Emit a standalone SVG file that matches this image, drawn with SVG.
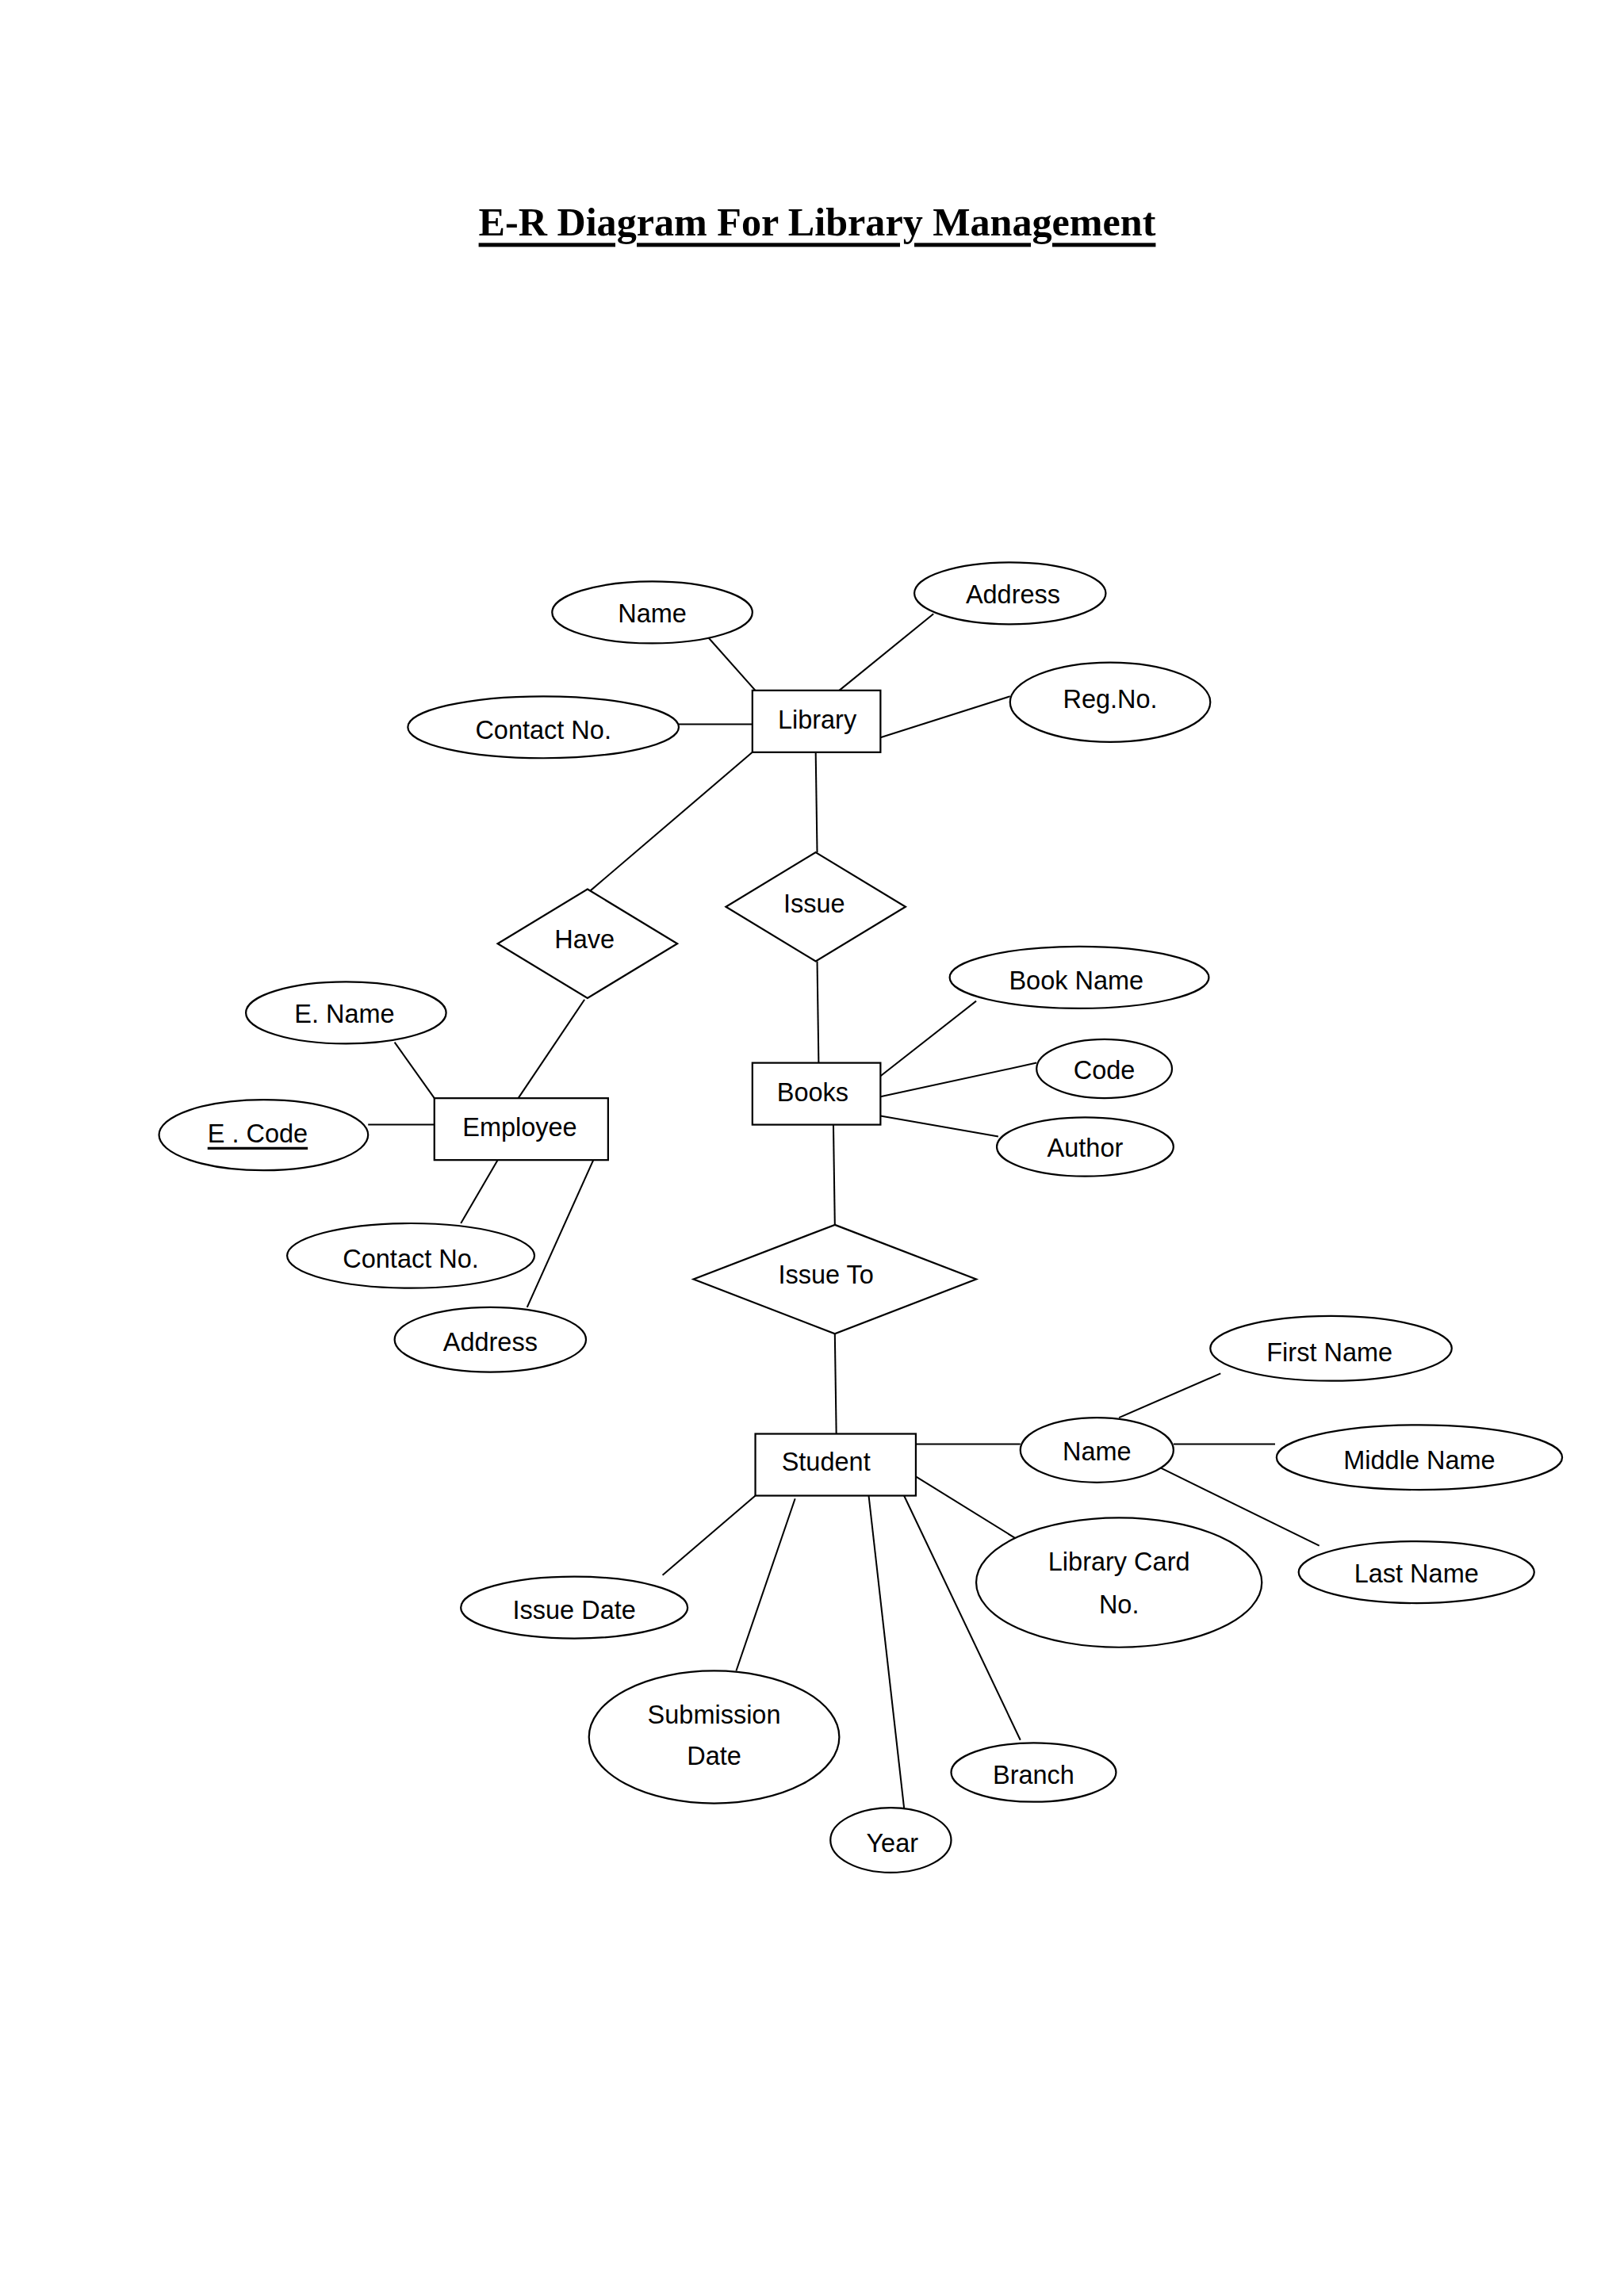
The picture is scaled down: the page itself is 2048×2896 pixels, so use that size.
<svg xmlns="http://www.w3.org/2000/svg" width="2048" height="2896" viewBox="0 0 2048 2896">
<style>
.s{fill:#fff;stroke:#000;stroke-width:1.2}
.l{stroke:#000;stroke-width:1.1;fill:none}
text{font-family:"Liberation Sans","Noto Sans",sans-serif;font-size:17.5px;text-anchor:middle;dominant-baseline:central;fill:#000}
</style>
<rect width="2048" height="2896" fill="#fff"/>
<g transform="scale(1.8568)">
<text x="555" y="151" style="font-family:'Liberation Serif',serif;font-weight:bold;font-size:27px;text-decoration:underline">E-R Diagram  For Library  Management</text>
<g id="connectors">
<line class="l" x1="481" y1="433" x2="513" y2="469"/>
<line class="l" x1="634" y1="417" x2="570" y2="469"/>
<line class="l" x1="686" y1="473" x2="598" y2="501"/>
<line class="l" x1="461" y1="492" x2="511" y2="492"/>
<line class="l" x1="511" y1="511" x2="401" y2="605"/>
<line class="l" x1="554" y1="511" x2="555" y2="579"/>
<line class="l" x1="555" y1="653" x2="556" y2="722"/>
<line class="l" x1="663" y1="680" x2="598" y2="731"/>
<line class="l" x1="704" y1="722" x2="598" y2="745"/>
<line class="l" x1="678" y1="772" x2="598" y2="758"/>
<line class="l" x1="397" y1="679" x2="352" y2="746"/>
<line class="l" x1="268" y1="708" x2="295" y2="746"/>
<line class="l" x1="250" y1="764" x2="295" y2="764"/>
<line class="l" x1="338" y1="788" x2="313" y2="831"/>
<line class="l" x1="403" y1="788" x2="358" y2="888"/>
<line class="l" x1="566" y1="764" x2="567" y2="832"/>
<line class="l" x1="567" y1="906" x2="568" y2="974"/>
<line class="l" x1="622" y1="981" x2="693" y2="981"/>
<line class="l" x1="760" y1="963" x2="829" y2="933"/>
<line class="l" x1="797" y1="981" x2="866" y2="981"/>
<line class="l" x1="786" y1="996" x2="896" y2="1050"/>
<line class="l" x1="622" y1="1003" x2="693" y2="1047"/>
<line class="l" x1="513" y1="1016" x2="450" y2="1070"/>
<line class="l" x1="540" y1="1018" x2="500" y2="1135"/>
<line class="l" x1="590" y1="1016" x2="614" y2="1228"/>
<line class="l" x1="614" y1="1016" x2="693" y2="1182"/>
</g>
<g id="library"><rect class="s" x="511" y="469" width="87" height="42"/><text x="555" y="489">Library</text></g>
<g id="lib-name"><ellipse class="s" cx="443" cy="416" rx="68" ry="21"/><text x="443" y="417">Name</text></g>
<g id="lib-address"><ellipse class="s" cx="686" cy="403" rx="65" ry="21"/><text x="688" y="404">Address</text></g>
<g id="lib-reg"><ellipse class="s" cx="754" cy="477" rx="68" ry="27"/><text x="754" y="475">Reg.No.</text></g>
<g id="lib-contact"><ellipse class="s" cx="369" cy="494" rx="92" ry="21"/><text x="369" y="496">Contact No.</text></g>
<g id="have"><polygon class="s" points="399,604 460,641 399,678 338,641"/><text x="397" y="638">Have</text></g>
<g id="issue"><polygon class="s" points="554,579 615,616 554,653 493,616"/><text x="553" y="614">Issue</text></g>
<g id="books"><rect class="s" x="511" y="722" width="87" height="42"/><text x="552" y="742">Books</text></g>
<g id="book-name"><ellipse class="s" cx="733" cy="664" rx="88" ry="21"/><text x="731" y="666">Book Name</text></g>
<g id="code"><ellipse class="s" cx="750" cy="726" rx="46" ry="20"/><text x="750" y="727">Code</text></g>
<g id="author"><ellipse class="s" cx="737" cy="779" rx="60" ry="20"/><text x="737" y="780">Author</text></g>
<g id="employee"><rect class="s" x="295" y="746" width="118" height="42"/><text x="353" y="766">Employee</text></g>
<g id="e-name"><ellipse class="s" cx="235" cy="688" rx="68" ry="21"/><text x="234" y="689">E. Name</text></g>
<g id="e-code"><ellipse class="s" cx="179" cy="771" rx="71" ry="24"/><text x="175" y="770" style="text-decoration:underline">E . Code</text></g>
<g id="e-contact"><ellipse class="s" cx="279" cy="853" rx="84" ry="22"/><text x="279" y="855">Contact No.</text></g>
<g id="e-address"><ellipse class="s" cx="333" cy="910" rx="65" ry="22"/><text x="333" y="912">Address</text></g>
<g id="issue-to"><polygon class="s" points="567,832 663,869 567,906 471,869"/><text x="561" y="866">Issue To</text></g>
<g id="student"><rect class="s" x="513" y="974" width="109" height="42"/><text x="561" y="993">Student</text></g>
<g id="s-name"><ellipse class="s" cx="745" cy="985" rx="52" ry="22"/><text x="745" y="986">Name</text></g>
<g id="first-name"><ellipse class="s" cx="904" cy="916" rx="82" ry="22"/><text x="903" y="919">First Name</text></g>
<g id="middle-name"><ellipse class="s" cx="964" cy="990" rx="97" ry="22"/><text x="964" y="992">Middle Name</text></g>
<g id="last-name"><ellipse class="s" cx="962" cy="1068" rx="80" ry="21"/><text x="962" y="1069">Last Name</text></g>
<g id="card"><ellipse class="s" cx="760" cy="1075" rx="97" ry="44"/><text x="760" y="1061">Library Card</text><text x="760" y="1090">No.</text></g>
<g id="issue-date"><ellipse class="s" cx="390" cy="1092" rx="77" ry="21"/><text x="390" y="1094">Issue Date</text></g>
<g id="sub-date"><ellipse class="s" cx="485" cy="1180" rx="85" ry="45"/><text x="485" y="1165">Submission</text><text x="485" y="1193">Date</text></g>
<g id="year"><ellipse class="s" cx="605" cy="1250" rx="41" ry="22"/><text x="606" y="1252">Year</text></g>
<g id="branch"><ellipse class="s" cx="702" cy="1204" rx="56" ry="20"/><text x="702" y="1206">Branch</text></g>
</g>
</svg>
